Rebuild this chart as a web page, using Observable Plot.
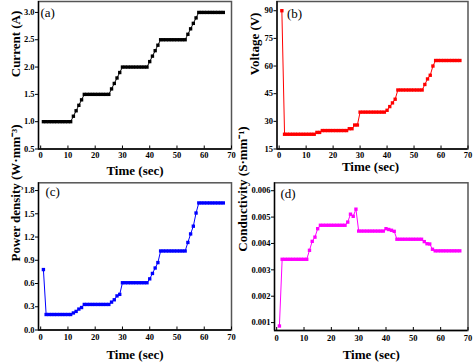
<!DOCTYPE html>
<html>
<head>
<meta charset="utf-8">
<script src="https://cdn.jsdelivr.net/npm/d3@7"></script>
<script src="https://cdn.jsdelivr.net/npm/@observablehq/plot@0.6"></script>
<style>
  html, body { margin: 0; padding: 0; background: #fff; }
  #wrap { position: relative; width: 474px; height: 362px; overflow: hidden; }
  #wrap svg { position: absolute; }
</style>
</head>
<body>
<div id="wrap"></div>
<script>
// Time (sec)
const time = [1,2,3,4,5,6,7,8,9,10,11,12,13,14,15,16,17,18,19,20,21,22,23,24,25,26,27,28,29,30,31,32,33,34,35,36,37,38,39,40,41,42,43,44,45,46,47,48,49,50,51,52,53,54,55,56,57,58,59,60,61,62,63,64,65,66,67];
// (a) Current (A)
const current = [1.0,1.0,1.0,1.0,1.0,1.0,1.0,1.0,1.0,1.0,1.0,
  1.1,1.2,1.3,1.4,1.5,
  1.5,1.5,1.5,1.5,1.5,1.5,1.5,1.5,1.5,
  1.6,1.7,1.8,1.9,2.0,
  2.0,2.0,2.0,2.0,2.0,2.0,2.0,2.0,2.0,
  2.1,2.2,2.3,2.4,2.5,
  2.5,2.5,2.5,2.5,2.5,2.5,2.5,2.5,2.5,
  2.6,2.7,2.8,2.9,3.0,
  3.0,3.0,3.0,3.0,3.0,3.0,3.0,3.0,3.0];
// (b) Voltage (V)
const voltage = [90,
  23,23,23,23,23,23,23,23,23,23,23,23,
  24,24,
  25,25,25,25,25,25,25,25,25,25,
  26,26,28,28,
  35,35,35,35,35,35,35,35,35,35,
  36,38,40,42,
  47,47,47,47,47,47,47,47,47,47,
  50,53,55,60,
  63,63,63,63,63,63,63,63,63,63];
// (c) Power density (W·mm^-3)
const power = [0.78,
  0.20,0.20,0.20,0.20,0.20,0.20,0.20,0.20,0.20,0.20,
  0.22,0.24,0.27,0.29,
  0.33,0.33,0.33,0.33,0.33,0.33,0.33,0.33,0.33,0.33,
  0.36,0.39,0.44,0.46,
  0.61,0.61,0.61,0.61,0.61,0.61,0.61,0.61,0.61,0.61,
  0.66,0.73,0.80,0.87,
  1.02,1.02,1.02,1.02,1.02,1.02,1.02,1.02,1.02,1.02,
  1.13,1.24,1.34,1.51,
  1.64,1.64,1.64,1.64,1.64,1.64,1.64,1.64,1.64,1.64];
// (d) Conductivity (S·mm^-1)
const conductivity = [0.00087,
  0.0034,0.0034,0.0034,0.0034,0.0034,0.0034,0.0034,0.0034,0.0034,0.0034,
  0.00374,0.00408,0.00424,0.00456,
  0.00469,0.00469,0.00469,0.00469,0.00469,0.00469,0.00469,0.00469,0.00469,0.00469,
  0.00481,0.00511,0.00503,0.0053,
  0.00447,0.00447,0.00447,0.00447,0.00447,0.00447,0.00447,0.00447,0.00447,0.00447,
  0.00456,0.00453,0.0045,0.00446,
  0.00416,0.00416,0.00416,0.00416,0.00416,0.00416,0.00416,0.00416,0.00416,0.00416,
  0.00407,0.00399,0.00398,0.00378,
  0.00372,0.00372,0.00372,0.00372,0.00372,0.00372,0.00372,0.00372,0.00372,0.00372];

const xTicks = [0,10,20,30,40,50,60,70];
const yTicksA = [0.5,1.0,1.5,2.0,2.5,3.0];
const yTicksB = [15,30,45,60,75,90];
const yTicksC = [0.0,0.3,0.6,0.9,1.2,1.5,1.8];
const yTicksD = [0.001,0.002,0.003,0.004,0.005,0.006];

const xLabel = "Time (sec)";
const labels = ["Current (A)", "Voltage (V)", "Power density (W·mm⁻³)", "Conductivity (S·mm⁻¹)"];
const letters = ["(a)", "(b)", "(c)", "(d)"];

const FONT = "'Liberation Serif', 'Times New Roman', serif";
const xDomain = [-0.8, 70];

function panel(cfg) {
  const rows = time.map((t, i) => ({t, v: cfg.values[i]}));
  const W = 237, H = 181;
  const fh = H - cfg.mt - cfg.mb;
  const svg = Plot.plot({
    width: W, height: H,
    marginLeft: cfg.ml, marginRight: cfg.mr, marginTop: cfg.mt, marginBottom: cfg.mb,
    x: {domain: xDomain, axis: null},
    y: {domain: cfg.yDomain, axis: null},
    style: `font-family: ${FONT}; font-weight: bold; background: transparent; overflow: visible; color: #000;`,
    marks: [
      Plot.frame({stroke: "#555", strokeWidth: 1.5}),
      Plot.ruleX([xDomain[0]], {stroke: "#000", strokeWidth: 1.3}),
      Plot.ruleY([cfg.yDomain[0]], {stroke: "#000", strokeWidth: 1.3}),
      Plot.tickX(xTicks, {x: d => d, insetTop: fh - 3, stroke: "#000", strokeWidth: 1}),
      Plot.axisX(xTicks, {tickSize: 0, tickPadding: cfg.xpad, fontSize: 8.5, label: null, tickFormat: d => String(d)}),
      Plot.axisY(cfg.yTicks, {tickSize: 3, tickPadding: 1, fontSize: 8.5, label: null, tickFormat: cfg.fmt}),
      Plot.line(rows, {x: "t", y: "v", stroke: cfg.color, strokeWidth: 1}),
      Plot.dot(rows, {x: "t", y: "v", symbol: "square", r: 1.9, fill: cfg.color, stroke: "none"}),
      Plot.text([cfg.label], {text: d => d, frameAnchor: "left", rotate: -90, dx: cfg.ldx, dy: cfg.ldy, fontSize: 13, lineAnchor: "middle"}),
      Plot.text([xLabel], {text: d => d, frameAnchor: "bottom", dx: cfg.tdx, dy: cfg.tdy, fontSize: 13, lineAnchor: "middle"}),
      Plot.text([cfg.letter], {text: d => d, frameAnchor: "top-left", dx: cfg.pdx, dy: cfg.pdy, fontSize: 13, fontWeight: "normal", textAnchor: "start", lineAnchor: "middle"})
    ]
  });
  svg.style.left = cfg.left + "px";
  svg.style.top = cfg.top + "px";
  document.getElementById("wrap").appendChild(svg);
}

panel({left: 0, top: 0, values: current, yDomain: [0.5, 3.2], yTicks: yTicksA, fmt: d => d.toFixed(1),
  color: "#000000", label: labels[0], letter: letters[0],
  ml: 38, mr: 6, mt: 1, mb: 32.5, xpad: 2.5, ldx: -23, ldy: 2, tdx: 0, tdy: 21.5, pdx: 2, pdy: 11});
panel({left: 237, top: 0, values: voltage, yDomain: [15, 95], yTicks: yTicksB, fmt: d => String(d),
  color: "#ff0000", label: labels[1], letter: letters[1],
  ml: 39.5, mr: 6.5, mt: 1, mb: 32.5, xpad: 2.5, ldx: -22, ldy: 0, tdx: -2, tdy: 17.5, pdx: 10, pdy: 12});
panel({left: 0, top: 181, values: power, yDomain: [0, 1.9], yTicks: yTicksC, fmt: d => d.toFixed(1),
  color: "#0000ff", label: labels[2], letter: letters[2],
  ml: 38, mr: 6, mt: 1.3, mb: 32.5, xpad: 4, ldx: -23, ldy: 5, tdx: 0, tdy: 24.5, pdx: 7, pdy: 9});
panel({left: 237, top: 181, values: conductivity, yDomain: [0.0007, 0.0063], yTicks: yTicksD, fmt: d => d.toFixed(3),
  color: "#ff00ff", label: labels[3], letter: letters[3],
  ml: 37, mr: 6.5, mt: 1.3, mb: 32, xpad: 4, ldx: -32, ldy: -5, tdx: 0, tdy: 24.5, pdx: 6, pdy: 11});
</script>
</body>
</html>
